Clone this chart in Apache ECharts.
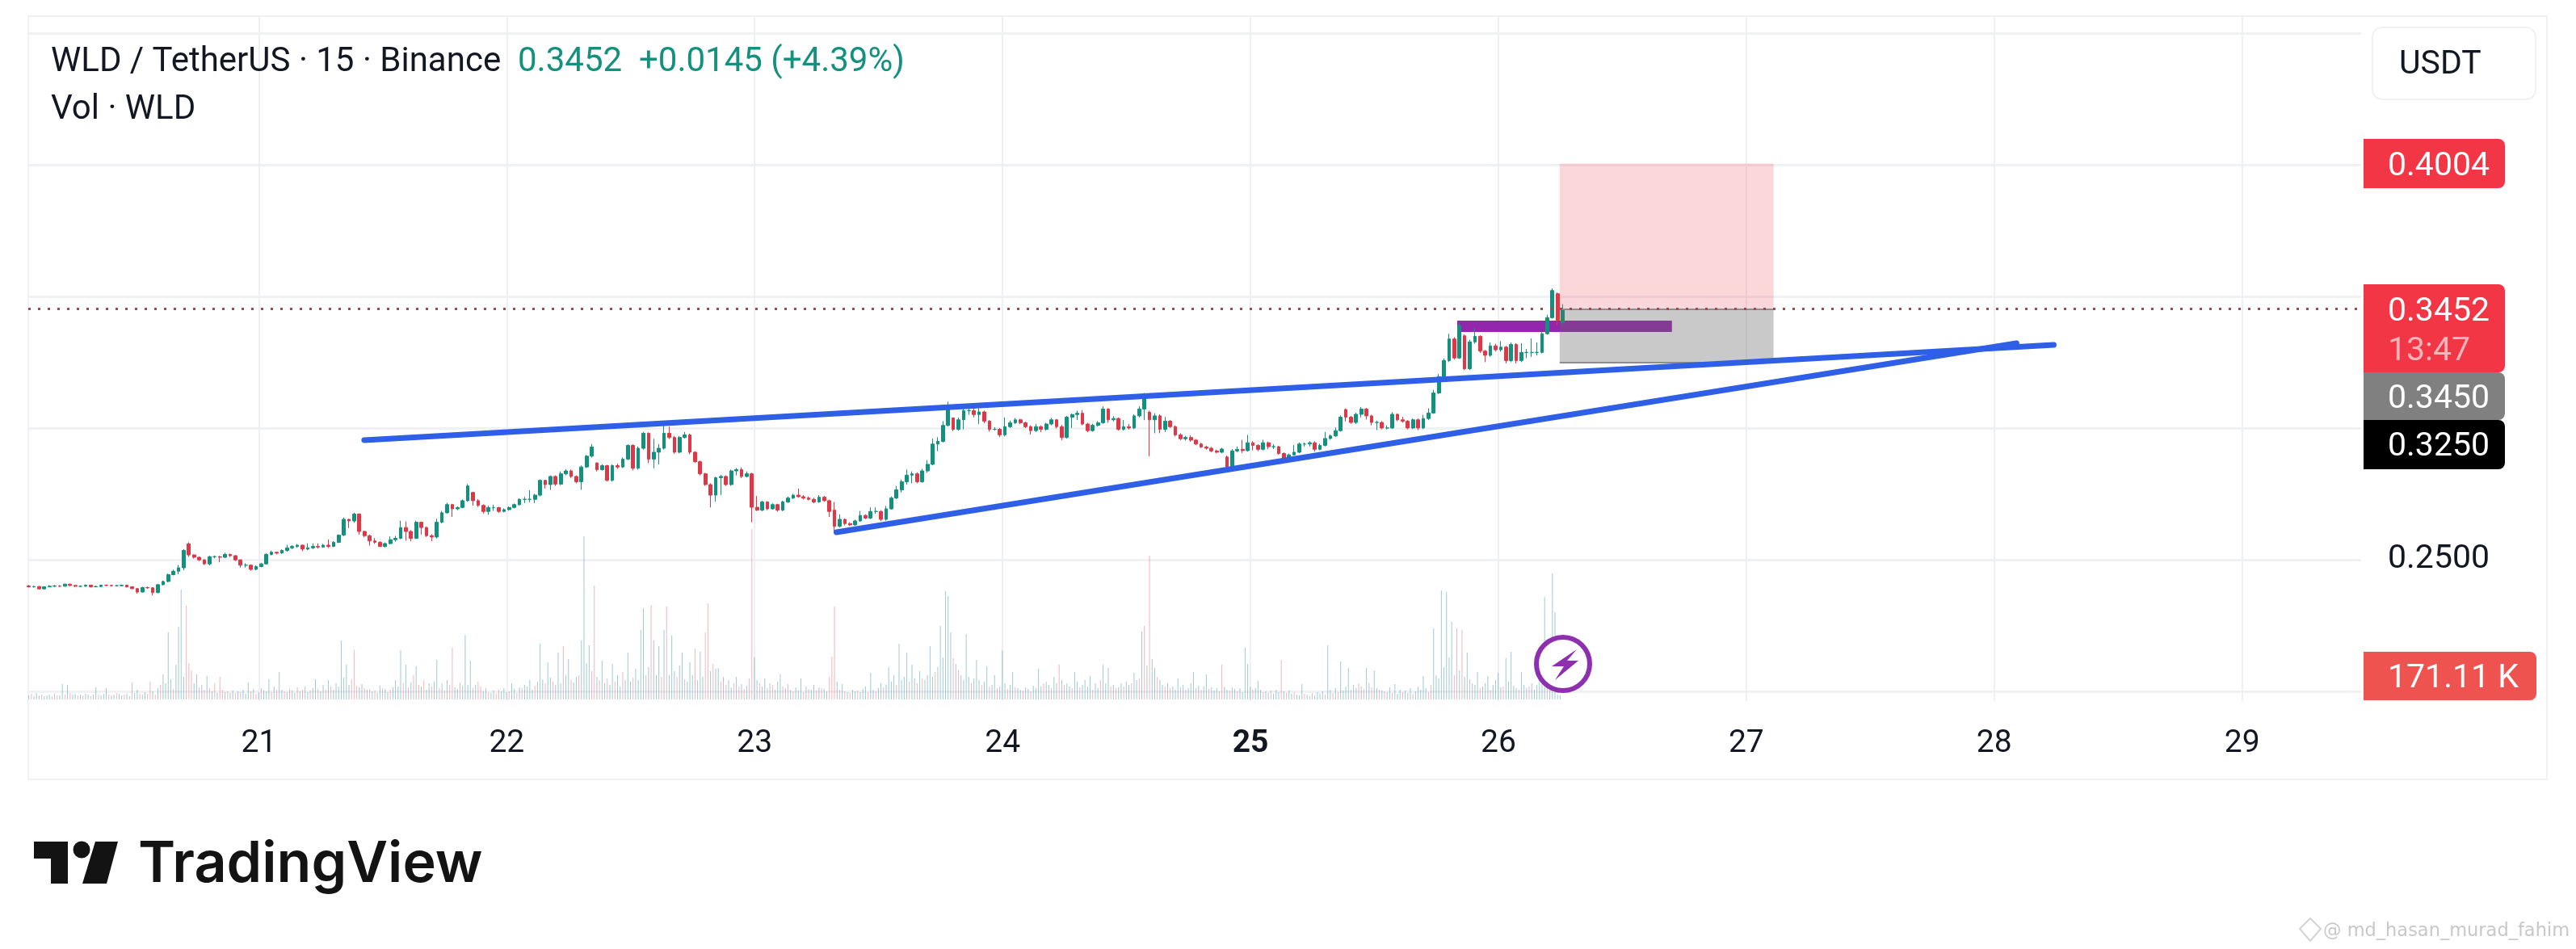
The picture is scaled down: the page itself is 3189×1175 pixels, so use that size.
<!DOCTYPE html>
<html><head><meta charset="utf-8">
<script src="https://cdn.jsdelivr.net/npm/echarts@6/dist/echarts.min.js"></script>
<style>html,body{margin:0;padding:0;background:#fff}#c{width:3189px;height:1175px}</style>
</head><body><div id="c"></div>
<script>
// Prices in 1/10000 USDT, one candle every 30 minutes.
const opens=[2400,2397,2398,2389,2397,2399,2400,2399,2407,2402,2399,2399,2403,2397,2398,2403,2402,2401,2401,2403,
2397,2390,2377,2394,2393,2375,2405,2417,2443,2456,2469,2560,2518,2509,2499,2484,2511,2511,2509,2520,
2515,2499,2479,2479,2463,2474,2484,2520,2528,2525,2535,2545,2550,2555,2540,2545,2550,2548,2555,2550,
2566,2593,2653,2647,2673,2607,2591,2571,2566,2550,2561,2576,2581,2622,2607,2581,2642,2622,2591,2586,
2642,2678,2709,2693,2698,2724,2755,2724,2706,2683,2698,2698,2683,2690,2698,2709,2729,2729,2729,2745,
2801,2785,2816,2787,2826,2837,2816,2796,2852,2893,2867,2842,2857,2801,2857,2852,2882,2934,2847,2923,
2980,2882,2908,2923,2980,2964,2908,2964,2974,2908,2872,2826,2785,2745,2811,2816,2785,2837,2842,2816,
2826,2699,2688,2719,2693,2709,2688,2719,2734,2745,2739,2734,2729,2719,2737,2724,2688,2627,2653,2637,
2632,2647,2668,2658,2683,2683,2653,2693,2734,2765,2796,2821,2826,2796,2837,2862,2939,2949,3010,3038,
2995,3031,3066,3066,3051,3061,3026,2995,2995,2974,3005,3020,3031,3020,3005,2990,3005,2995,3015,3031,
3005,2964,3041,3051,3056,3015,2990,3010,3020,3072,3031,3036,2995,3005,3000,3046,3072,3060,3031,3046,
2995,3026,3005,2974,2959,2964,2954,2939,2928,2923,2913,2908,2890,2852,2913,2919,2914,2944,2934,2919,
2944,2929,2929,2903,2878,2898,2908,2939,2939,2944,2919,2934,2960,2970,2990,3070,3041,3021,3052,3072,
3046,3021,3021,3000,3000,3052,3031,3026,3000,3031,3000,3036,3057,3133,3195,3256,3338,3266,3350,3225,
3327,3348,3292,3276,3312,3297,3307,3256,3317,3256,3287,3287,3287,3287,3358,3419,3510,3400];
const closes=[2397,2398,2389,2397,2399,2400,2399,2407,2402,2399,2399,2403,2397,2398,2403,2402,2401,2401,2403,2397,
2390,2377,2394,2393,2375,2405,2417,2443,2456,2469,2535,2518,2509,2499,2484,2511,2511,2509,2520,2515,
2499,2479,2479,2463,2474,2484,2520,2528,2525,2535,2545,2550,2555,2540,2545,2550,2548,2555,2550,2566,
2593,2653,2647,2673,2607,2591,2571,2566,2550,2561,2576,2581,2622,2607,2581,2642,2622,2591,2586,2642,
2678,2709,2693,2698,2724,2780,2724,2706,2683,2698,2698,2683,2690,2698,2709,2729,2729,2729,2745,2801,
2785,2816,2787,2826,2837,2816,2796,2852,2893,2928,2842,2857,2801,2857,2852,2882,2934,2847,2923,2980,
2882,2908,2923,2980,2964,2908,2964,2974,2908,2872,2826,2785,2745,2811,2816,2785,2837,2842,2816,2826,
2699,2688,2719,2693,2709,2688,2719,2734,2745,2739,2734,2729,2719,2737,2724,2683,2627,2653,2637,2632,
2647,2668,2658,2683,2683,2653,2693,2734,2765,2796,2821,2826,2796,2837,2862,2939,2949,3010,3082,2995,
3031,3066,3066,3051,3061,3026,2995,2995,2974,3005,3020,3031,3020,3005,2990,3005,2995,3015,3031,3005,
2964,3041,3051,3056,3015,2990,3010,3020,3072,3031,3036,2995,3005,3000,3046,3072,3123,3031,3046,2995,
3026,3005,2974,2959,2964,2954,2939,2928,2923,2913,2908,2920,2852,2913,2919,2914,2944,2934,2919,2944,
2929,2929,2903,2878,2898,2908,2939,2939,2944,2919,2934,2960,2970,2990,3041,3041,3021,3052,3072,3046,
3021,3021,3000,3000,3052,3031,3026,3000,3031,3000,3036,3057,3133,3195,3256,3338,3266,3389,3225,3327,
3348,3292,3276,3312,3297,3307,3256,3317,3256,3287,3287,3287,3287,3358,3419,3522,3409,3452];
const lows=[2394,2394,2386,2386,2395,2396,2396,2397,2399,2396,2396,2397,2394,2395,2396,2399,2398,2398,2399,2394,
2387,2371,2375,2389,2364,2372,2402,2414,2440,2445,2460,2510,2504,2495,2480,2478,2505,2490,2506,2510,
2495,2470,2470,2458,2460,2471,2482,2516,2520,2522,2530,2540,2545,2532,2536,2540,2542,2545,2544,2548,
2563,2590,2620,2640,2595,2585,2553,2560,2548,2546,2558,2568,2578,2572,2570,2578,2595,2586,2570,2580,
2638,2675,2662,2688,2695,2720,2705,2700,2675,2670,2685,2678,2680,2686,2695,2705,2715,2718,2715,2740,
2770,2765,2780,2783,2820,2810,2790,2765,2848,2888,2835,2838,2797,2797,2845,2848,2878,2839,2842,2918,
2867,2847,2862,2918,2958,2902,2904,2960,2900,2868,2820,2780,2698,2720,2745,2780,2780,2820,2810,2812,
2642,2685,2684,2688,2690,2682,2684,2716,2730,2735,2728,2725,2714,2716,2720,2662,2600,2622,2630,2628,
2628,2644,2654,2654,2674,2646,2648,2690,2730,2755,2785,2790,2790,2792,2830,2858,2912,2945,3005,2988,
2990,2995,3050,3040,3015,3018,2986,2990,2965,2968,3000,3015,3014,3000,2975,2985,2984,2990,3010,2998,
2954,2960,3000,3030,3010,2984,2986,3005,3016,3020,3025,2990,2990,2994,2996,3040,3030,2893,2980,2980,
2985,3000,2968,2954,2952,2948,2935,2924,2918,2908,2904,2904,2848,2846,2908,2905,2910,2915,2912,2915,
2920,2920,2898,2870,2874,2895,2904,2930,2930,2910,2915,2930,2955,2966,2986,3025,3016,3015,3040,3032,
3010,2992,2995,2995,2996,3026,3020,2995,2996,2992,2996,3030,3054,3128,3190,3250,3260,3262,3220,3220,
3320,3285,3250,3270,3290,3290,3245,3250,3245,3250,3265,3270,3275,3283,3354,3415,3390,3390];
const highs=[2404,2401,2400,2399,2403,2404,2403,2409,2409,2404,2402,2406,2405,2402,2405,2405,2404,2404,2405,2405,
2399,2392,2397,2398,2395,2408,2420,2447,2462,2480,2540,2566,2520,2512,2502,2515,2516,2515,2526,2523,
2517,2501,2486,2482,2478,2488,2524,2534,2531,2539,2556,2555,2559,2557,2562,2562,2562,2560,2577,2570,
2596,2660,2655,2678,2676,2610,2595,2582,2570,2565,2588,2590,2648,2645,2612,2648,2645,2626,2596,2655,
2685,2716,2712,2702,2729,2787,2758,2730,2710,2705,2708,2700,2695,2702,2713,2733,2738,2764,2750,2805,
2803,2820,2820,2835,2843,2842,2820,2858,2898,2939,2870,2862,2860,2862,2865,2888,2938,2938,2930,2985,
2983,2959,2939,3020,3005,2970,2970,2985,2978,2912,2876,2830,2790,2815,2822,2820,2842,2848,2850,2835,
2830,2742,2724,2722,2714,2712,2724,2740,2750,2770,2745,2740,2735,2745,2742,2728,2719,2672,2656,2642,
2652,2685,2672,2698,2698,2688,2704,2740,2780,2804,2842,2835,2832,2845,2878,2959,2965,3026,3100,3040,
3040,3078,3078,3080,3075,3066,3030,3003,3000,3040,3028,3038,3035,3024,3010,3015,3010,3020,3038,3034,
3012,3046,3056,3066,3068,3020,3016,3026,3082,3075,3045,3040,3030,3015,3052,3082,3133,3066,3056,3052,
3042,3030,3010,2980,2970,2972,2958,2944,2933,2928,2918,2925,2895,2920,2930,2955,2974,2950,2938,2955,
2948,2938,2932,2908,2903,2935,2945,2945,2950,2950,2940,2985,2975,3002,3048,3074,3046,3058,3080,3076,
3050,3028,3026,3010,3060,3056,3042,3030,3036,3036,3050,3075,3145,3205,3264,3358,3345,3400,3355,3335,
3380,3352,3296,3325,3320,3330,3312,3325,3322,3322,3300,3340,3325,3364,3430,3530,3515,3470];
// Volume every 15 minutes, in axis units; negative = down bar.
const volumes=[5,-7,4,8,5,-6,4,5,6,-4,7,-5,5,19,-6,18,-8,6,7,-5,
6,-5,7,6,-4,6,15,-6,5,7,14,-6,5,6,-8,7,5,-6,7,4,
-21,8,12,-7,6,9,-7,-22,10,-6,14,-18,31,20,83,25,-13,43,90,136,
28,-116,-45,-36,20,31,-15,18,-12,29,-14,10,-20,8,-28,-12,9,-10,8,11,
-8,10,-9,12,7,21,-10,13,-7,9,-14,11,10,25,-9,16,-12,34,12,-10,
9,-13,11,8,-15,10,-12,16,9,-11,14,25,-13,10,18,-12,24,-16,12,20,
16,73,27,43,18,-25,-61,-17,15,19,-14,12,-13,10,-11,8,17,-14,13,9,
-12,15,24,16,61,-20,43,-15,21,-30,41,-18,16,-24,12,20,-16,22,49,-14,
20,-11,24,-18,-64,15,13,-21,17,80,18,48,-14,18,-22,-16,10,14,-9,8,
11,-7,-12,10,14,9,-10,20,13,-8,15,-14,18,16,24,12,-17,22,69,25,
-20,46,27,-22,18,58,20,-66,30,50,-24,21,28,-30,73,202,45,67,-35,-141,
28,-24,48,20,-26,18,44,-22,30,16,-34,24,58,22,-27,38,24,86,113,-30,
40,-117,73,30,66,-28,86,-115,30,79,35,-28,42,58,-25,22,46,30,-63,24,
59,28,-83,-119,35,-44,38,39,-22,28,-18,24,15,-20,28,-16,19,-13,17,-26,
-211,52,24,-20,16,26,-14,20,-18,12,22,31,-16,14,-19,12,-10,15,11,26,
-9,16,-13,12,18,-11,15,-14,13,10,-28,-53,-115,22,-12,19,-10,9,-8,12,
10,-11,9,13,16,-9,33,12,-10,14,20,-15,18,40,22,30,-18,69,24,28,
58,-22,43,26,-20,35,-26,24,30,66,28,-34,40,91,52,134,128,83,-51,44,
-36,30,24,81,28,-20,26,49,24,-18,22,41,-16,18,30,-14,16,61,20,-13,
18,34,-15,14,12,-11,15,13,-10,17,14,38,16,-20,22,18,-14,28,20,-43,
24,-18,20,16,-14,34,22,-15,18,24,16,29,-12,20,14,-24,43,20,39,-16,
18,-14,15,20,-16,22,18,-20,33,24,-26,84,-91,42,-178,50,39,-28,24,18,
-16,20,-14,16,12,26,-15,18,-12,14,20,34,-14,17,-12,16,31,-13,15,11,
14,-10,-43,16,12,-11,15,13,-10,14,9,64,44,16,-12,14,23,12,-9,10,
8,-11,7,12,9,-49,10,-8,11,7,-9,6,5,19,-7,6,4,-8,5,9,
7,10,-6,67,12,-8,14,-9,47,11,16,39,-12,18,14,-20,16,-13,39,20,
-15,36,14,-12,11,-10,9,15,-8,19,7,12,-9,11,8,14,-7,10,16,12,
29,14,-9,-18,88,30,26,135,40,133,52,96,-30,-88,36,-86,28,58,-25,20,
18,34,-14,16,20,29,-12,18,24,33,15,-16,51,22,59,17,14,-12,34,18,
14,-16,20,12,18,26,30,127,-16,36,156,108,6,5];
const startDay=20.072, candlesPerDay=48, volumeBarsPerDay=96;
const dayTicks=[21,22,23,24,25,26,27,28,29];
const priceTicks=[0.20,0.25,0.30,0.35,0.40,0.45];
const priceLabels=[0.25];
const lastPrice=0.3452;
const resistanceLine=[[21.425,0.2954],[28.24,0.3316]];
const supportLine=[[23.33,0.2604],[28.09,0.3322]];
const targetZone=[[26.247,0.4004],[27.11,0.345]];
const stopZone=[[26.247,0.345],[27.11,0.325]];
const resistanceBlock=[[25.834,0.3408],[26.70,0.3365]];
const UP='#12917e', DOWN='#dc3848';

const candleData=opens.map((o,i)=>[startDay+i/candlesPerDay,o/1e4,closes[i]/1e4,lows[i]/1e4,highs[i]/1e4]);
const volumeData=volumes.map((v,i)=>({value:[startDay+i/volumeBarsPerDay,Math.abs(v)],
  itemStyle:{color:v<0?'rgba(225,70,85,0.4)':'rgba(20,120,140,0.4)'}}));
const area=(b)=>[{xAxis:b[0][0],yAxis:b[0][1]},{xAxis:b[1][0],yAxis:b[1][1]}];
const FONT='Roboto';
const tag=(x,y,w,h,fill,r)=>({type:'rect',shape:{x,y,width:w,height:h,r},style:{fill},z:30});
const txt=(x,y,text,fill,size,extra)=>({type:'text',x,y,z:31,style:Object.assign({text,fill,font:`${size||41}px ${FONT}`,textVerticalAlign:'middle'},extra||{})});

const chart=echarts.init(document.getElementById('c'),null,{renderer:'canvas'});
chart.setOption({
 animation:false,backgroundColor:'#fff',
 grid:{left:35,right:266,top:20,bottom:307},
 xAxis:{type:'value',min:20.07,max:29.48,
  axisLine:{show:false},
  axisTick:{show:false,customValues:dayTicks},
  splitLine:{show:true,lineStyle:{color:'#eef0f4',width:2}},
  axisLabel:{customValues:dayTicks,margin:34,color:'#131722',fontFamily:FONT,fontSize:39,
   formatter:v=>v===25?'{b|25}':String(v),rich:{b:{fontWeight:700,fontSize:39,fontFamily:FONT,color:'#131722'}}}},
 yAxis:[{type:'value',min:0.1963,max:0.4564,position:'right',
  axisLine:{show:false},
  axisTick:{show:false,customValues:priceTicks},
  splitLine:{show:true,lineStyle:{color:'#f0f1f4',width:3}},
  axisLabel:{customValues:priceLabels,margin:33,padding:[8,0,0,0],color:'#131722',fontFamily:FONT,fontSize:41,formatter:v=>v.toFixed(4)}},
  {type:'value',min:-2,max:846,show:false,splitLine:{show:false}}],
 series:[
  {type:'bar',name:'Vol',yAxisIndex:1,barWidth:1,data:volumeData,z:2,large:false},
  {type:'line',name:'block',data:[],z:3,markArea:{silent:true,z:3,itemStyle:{color:'rgba(142,26,170,0.95)'},data:[area(resistanceBlock)]}},
  {type:'candlestick',name:'WLD',data:candleData,barWidth:4.2,encode:{x:0,y:[1,2,3,4]},z:5,
   itemStyle:{color:UP,color0:DOWN,borderColor:UP,borderColor0:DOWN,borderWidth:1}},
  {type:'line',name:'zones',data:[],z:6,
   markArea:{silent:true,z:6,data:[
    [Object.assign({itemStyle:{color:'rgba(242,54,69,0.2)'}},area(targetZone)[0]),area(targetZone)[1]],
    [Object.assign({itemStyle:{color:'rgba(100,100,100,0.35)'}},area(stopZone)[0]),area(stopZone)[1]]]},
   markLine:{silent:true,z:6,symbol:'none',label:{show:false},lineStyle:{color:'#8d8d8d',width:2,type:'solid'},data:[
    [{coord:[stopZone[0][0],stopZone[0][1]]},{coord:[stopZone[1][0],stopZone[0][1]]}],
    [{coord:[stopZone[0][0],stopZone[1][1]]},{coord:[stopZone[1][0],stopZone[1][1]]}]]}},
  {type:'line',name:'last',data:[[20.07,lastPrice],[29.48,lastPrice]],symbol:'none',z:7,
   lineStyle:{color:'#a8474f',width:3,type:[3,9]}},
  {type:'line',name:'resistance',data:resistanceLine,symbol:'none',z:8,lineStyle:{color:'#2e5fe6',width:7,cap:'round'}},
  {type:'line',name:'support',data:supportLine,symbol:'none',z:8,lineStyle:{color:'#2e5fe6',width:7,cap:'round'}}
 ],
 graphic:[
  {type:'rect',shape:{x:35,y:20,width:3118,height:945},style:{fill:'none',stroke:'#f0f1f4',lineWidth:2},z:1,silent:true},
  txt(63,77,'WLD / TetherUS · 15 · Binance','#131722',42),
  txt(641,77,'0.3452','#14907e',42),
  txt(791,77,'+0.0145 (+4.39%)','#14907e',42),
  txt(63,136,'Vol · WLD','#131722',42),
  {type:'rect',shape:{x:2937,y:34,width:202,height:89,r:12},style:{fill:'#fff',stroke:'#f0f1f4',lineWidth:2},z:30},
  txt(2970,81,'USDT','#131722'),
  tag(2926,172,175,61,'#f23645',[0,8,8,0]), txt(2956,207,'0.4004','#fff'),
  tag(2926,352,175,109,'#f23645',[0,8,8,0]), txt(2956,387,'0.3452','#fff'), txt(2956,436,'13:47','#fab4ba'),
  tag(2926,461,175,59,'#808080',[0,8,8,0]), txt(2956,495,'0.3450','#fff'),
  tag(2926,520,175,61,'#000000',[0,8,8,0]), txt(2956,554,'0.3250','#fff'),
  tag(2926,807,214,60,'#ef5350',[0,8,8,0]), txt(2956,841,'171.11 K','#fff'),
  {type:'circle',shape:{cx:1935,cy:822,r:33},style:{fill:'#fff',stroke:'#8e2fb0',lineWidth:6},z:32},
  {type:'polygon',shape:{points:[[1952,804],[1921,825],[1936,825],[1925,842],[1954,818],[1940,818]]},style:{fill:'#8e2fb0'},z:33},
  // TradingView logo
  {type:'polygon',shape:{points:[[42,1042],[84,1042],[84,1094],[63,1094],[63,1063],[42,1063]]},style:{fill:'#131313'}},
  {type:'circle',shape:{cx:101,cy:1052,r:10.5},style:{fill:'#131313'}},
  {type:'polygon',shape:{points:[[118,1042],[146,1042],[132,1094],[102,1094]]},style:{fill:'#131313'}},
  {type:'text',x:171,y:1071,style:{text:'TradingView',fill:'#131313',font:'600 70px Inter',textVerticalAlign:'middle'}},
  // watermark
  {type:'polygon',shape:{points:[[2860,1137],[2873,1150],[2860,1165],[2847,1150]]},style:{fill:'none',stroke:'#d4d4d4',lineWidth:2}},
  {type:'text',x:2876,y:1153,style:{text:'@ md_hasan_murad_fahim',fill:'#c8c8c8',font:'22.5px "DejaVu Sans"',textVerticalAlign:'middle'}}
 ]
});
</script></body></html>
